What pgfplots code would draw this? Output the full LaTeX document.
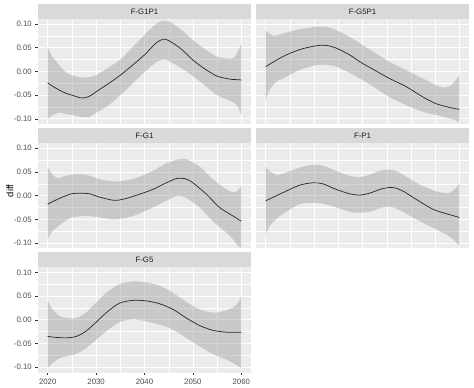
\documentclass[border=0pt]{standalone}
\usepackage{pgfplots}
\pgfplotsset{compat=1.18}
\usepgfplotslibrary{fillbetween}
\usepackage{fontspec}
\setmainfont{Liberation Sans}
\definecolor{grey92}{HTML}{EBEBEB}
\definecolor{grey85}{HTML}{D9D9D9}
\definecolor{grey30}{HTML}{4D4D4D}
\definecolor{grey20}{HTML}{333333}
\definecolor{grey10}{HTML}{1A1A1A}
\definecolor{bandc}{HTML}{999999}
\pgfplotsset{
  panel/.style={
    scale only axis, width=213pt, height=105.5pt,
    anchor=south west,
    xmin=2018, xmax=2062, ymin=-0.1115, ymax=0.111,
    axis background/.style={fill=grey92},
    axis line style={draw=none},
    xtick={2020,2030,2040,2050,2060},
    ytick={-0.1,-0.05,0,0.05,0.1},
    minor xtick={2025,2035,2045,2055},
    minor ytick={-0.075,-0.025,0.025,0.075},
    xtick pos=bottom, ytick pos=left,
    grid=both,
    major grid style={white, line width=0.8pt},
    minor grid style={white, line width=0.4pt},
    tick align=outside, major tick length=2.75pt, minor tick length=0pt,
    tick style={grey20, line width=0.5pt},
    ticklabel style={font=\fontsize{7.8}{8}\selectfont, text=grey30},
    xticklabels={}, yticklabels={},
    every axis title/.style={at={(0.5,1)}, anchor=south, fill=grey85,
      minimum width=213pt, minimum height=14.8pt, inner sep=0pt, outer sep=0pt,
      font=\fontsize{7.8}{8}\selectfont, text=grey10},
  },
  noxt/.style={xtick style={draw=none}},
  noyt/.style={ytick style={draw=none}},
  yl/.style={yticklabels={-0.10,-0.05,0.00,0.05,0.10}},
  xl/.style={xticklabels={2020,2030,2040,2050,2060}},
  bandline/.style={draw=none, smooth},
  fitline/.style={black!85, line width=0.7pt, smooth},
  bandfill/.style={fill=bandc, fill opacity=0.42, draw=none},
}
\begin{document}
\begin{tikzpicture}

% Panel 1: F-G1P1
\begin{axis}[panel, noxt, yl, at={(38pt,262.7pt)}, title={F-G1P1}]
\addplot[bandline, name path=U1] table {
2020 0.051
2021 0.031
2022.5 0.012
2024 -0.004
2025 -0.008
2027 -0.013
2028.5 -0.012
2030 -0.008
2032.5 0.008
2035 0.025
2037.5 0.051
2040 0.077
2042.5 0.101
2044 0.107
2045 0.106
2047.5 0.089
2050 0.066
2052.5 0.047
2055 0.031
2057.5 0.027
2058.5 0.029
2059.3 0.042
2060 0.059
};
\addplot[bandline, name path=D1] table {
2020 -0.101
2021 -0.092
2022.5 -0.087
2024 -0.090
2025 -0.092
2027 -0.096
2028.5 -0.096
2030 -0.087
2032.5 -0.072
2035 -0.050
2037.5 -0.026
2040 -0.001
2042.5 0.020
2044 0.025
2045 0.022
2047.5 0.008
2050 -0.010
2052.5 -0.030
2055 -0.050
2057.5 -0.061
2058.5 -0.066
2059.3 -0.075
2060 -0.092
};
\addplot[bandfill] fill between[of=U1 and D1];
\addplot[fitline] table {
2020 -0.024
2021 -0.031
2022.5 -0.040
2024 -0.047
2025 -0.050
2027 -0.056
2028.5 -0.053
2030 -0.043
2032.5 -0.026
2035 -0.008
2037.5 0.013
2040 0.035
2042.5 0.061
2044 0.068
2045 0.065
2047.5 0.048
2050 0.024
2052.5 0.005
2055 -0.010
2057.5 -0.016
2058.5 -0.017
2059.3 -0.0175
2060 -0.018
};
\end{axis}

% Panel 2: F-G5P1
\begin{axis}[panel, noxt, noyt, at={(256pt,262.7pt)}, title={F-G5P1}]
\addplot[bandline, name path=U2] table {
2020 0.086
2020.8 0.080
2021.8 0.075
2023.5 0.080
2027 0.089
2030.4 0.094
2032.5 0.094
2034.6 0.087
2037.3 0.073
2040 0.056
2042.8 0.038
2045.6 0.020
2049 0.003
2052.5 -0.015
2055.2 -0.029
2056.6 -0.034
2058 -0.031
2059 -0.022
2060 -0.008
};
\addplot[bandline, name path=D2] table {
2020 -0.061
2020.8 -0.039
2022.1 -0.022
2023.5 -0.015
2027 0.003
2030.4 0.013
2032.5 0.014
2034.6 0.010
2037.3 -0.003
2040 -0.018
2042.8 -0.036
2045.6 -0.054
2049 -0.071
2052.5 -0.085
2055.2 -0.092
2058 -0.099
2059 -0.102
2060 -0.108
};
\addplot[bandfill] fill between[of=U2 and D2];
\addplot[fitline] table {
2020 0.010
2023.5 0.031
2027 0.046
2030.4 0.054
2032.5 0.055
2034.6 0.049
2037.3 0.035
2040 0.017
2042.8 0.001
2045.6 -0.015
2049 -0.032
2052.5 -0.054
2055.2 -0.068
2058 -0.076
2060 -0.080
};
\end{axis}

% Panel 3: F-G1
\begin{axis}[panel, noxt, yl, at={(38pt,138.5pt)}, title={F-G1}]
\addplot[bandline, name path=U3] table {
2020 0.059
2021 0.045
2022 0.037
2023.8 0.042
2025.9 0.045
2028 0.044
2030.7 0.035
2033.8 0.030
2037.6 0.035
2041.7 0.052
2044.5 0.068
2047.2 0.077
2048.6 0.077
2051.4 0.061
2054.1 0.035
2056.2 0.018
2057.9 0.008
2058.9 0.008
2059.5 0.014
2060 0.020
};
\addplot[bandline, name path=D3] table {
2020 -0.092
2021 -0.075
2023.1 -0.057
2025 -0.046
2028 -0.043
2030.7 -0.046
2033.8 -0.050
2037.6 -0.043
2041.7 -0.025
2044.5 -0.011
2046.6 -0.001
2048.3 -0.003
2051.4 -0.025
2054.1 -0.054
2056.9 -0.078
2058.3 -0.092
2059.3 -0.106
2060 -0.110
};
\addplot[bandfill] fill between[of=U3 and D3];
\addplot[fitline] table {
2020 -0.018
2022.4 -0.006
2025 0.004
2027.2 0.005
2028.6 0.004
2030.7 -0.003
2033.8 -0.010
2036.2 -0.006
2039 0.003
2041.7 0.013
2044.5 0.027
2046.6 0.036
2048.3 0.036
2050 0.027
2052.8 0.003
2055.5 -0.025
2058.3 -0.043
2060 -0.054
};
\end{axis}

% Panel 4: F-P1
\begin{axis}[panel, noxt, noyt, at={(256pt,138.5pt)}, title={F-P1}]
\addplot[bandline, name path=U4] table {
2020 0.061
2020.8 0.052
2022.1 0.044
2023.5 0.046
2027 0.059
2029.7 0.065
2031.8 0.063
2034.6 0.052
2037.3 0.042
2039.4 0.039
2041.4 0.044
2044.2 0.054
2046.3 0.054
2048.3 0.045
2051.1 0.027
2054.6 0.011
2057.3 0.005
2058.7 0.010
2060 0.025
};
\addplot[bandline, name path=D4] table {
2020 -0.082
2020.8 -0.064
2022.1 -0.050
2023.5 -0.039
2027 -0.018
2029.7 -0.015
2031.8 -0.017
2034.6 -0.025
2037.3 -0.034
2039.4 -0.036
2041.4 -0.034
2044.2 -0.025
2046.3 -0.025
2048.3 -0.034
2051.1 -0.050
2054.6 -0.068
2057.3 -0.082
2058.7 -0.092
2060 -0.106
};
\addplot[bandfill] fill between[of=U4 and D4];
\addplot[fitline] table {
2020 -0.011
2023.5 0.006
2027 0.022
2029.7 0.027
2031.8 0.025
2034.6 0.013
2037.3 0.004
2039.4 0.001
2041.4 0.005
2044.2 0.015
2046.3 0.017
2048.3 0.010
2051.1 -0.008
2054.6 -0.029
2057.3 -0.038
2060 -0.046
};
\end{axis}

% Panel 5: F-G5
\begin{axis}[panel, yl, xl, at={(38pt,14.3pt)}, title={F-G5}]
\addplot[bandline, name path=U5] table {
2020 0.040
2021 0.022
2022.4 0.008
2023.8 0.004
2025.9 0.004
2027.9 0.015
2030 0.036
2032.1 0.057
2034.8 0.075
2037.6 0.081
2040.3 0.079
2043.1 0.072
2045.9 0.057
2048.6 0.038
2051.4 0.022
2054.1 0.015
2056.2 0.018
2058.3 0.026
2059.3 0.036
2060 0.050
};
\addplot[bandline, name path=D5] table {
2020 -0.102
2021 -0.091
2022.4 -0.081
2023.8 -0.077
2025.9 -0.072
2027.9 -0.060
2030 -0.042
2032.1 -0.024
2034.8 -0.005
2037.6 0.001
2040.3 -0.003
2043.1 -0.010
2045.9 -0.021
2048.6 -0.038
2051.4 -0.056
2054.1 -0.072
2056.9 -0.084
2058.3 -0.091
2060 -0.102
};
\addplot[bandfill] fill between[of=U5 and D5];
\addplot[fitline] table {
2020 -0.035
2021.7 -0.037
2023.8 -0.038
2025.9 -0.035
2027.9 -0.024
2030 -0.005
2032.1 0.015
2034.8 0.035
2037.6 0.041
2040.3 0.040
2043.1 0.034
2045.9 0.022
2048.6 0.004
2051.4 -0.012
2054.1 -0.022
2056.9 -0.026
2060 -0.026
};
\end{axis}

\node[rotate=90, font=\fontsize{9.4}{10}\selectfont, text=black] at (10pt,196pt) {diff};
\path (0pt,0pt) rectangle (474pt,387pt);
\end{tikzpicture}
\end{document}
